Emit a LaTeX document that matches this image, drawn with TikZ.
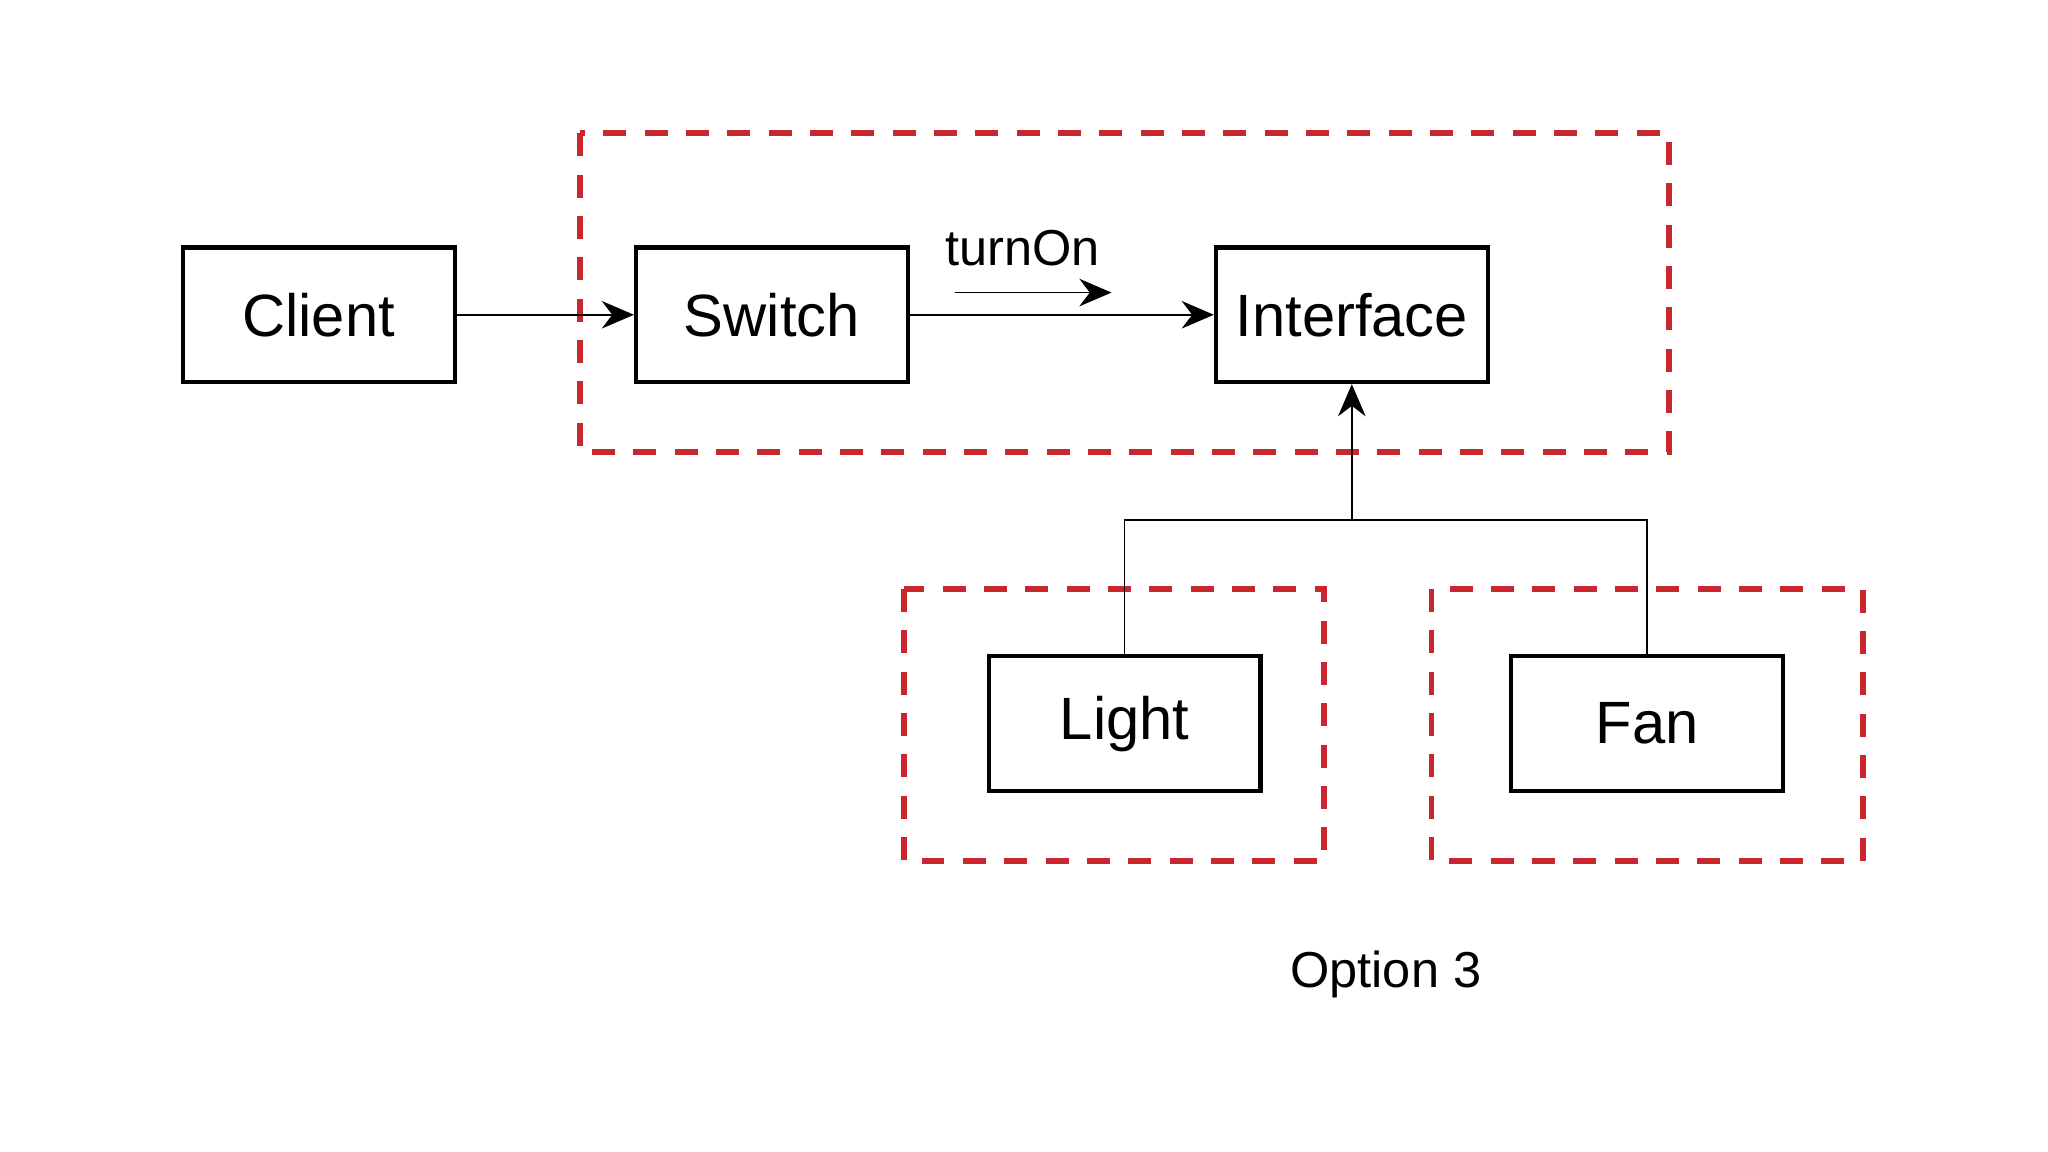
\documentclass[tikz,border=0pt]{standalone}
\usepackage{fontspec}
\setmainfont{Liberation Sans}
\usetikzlibrary{arrows.meta}
\definecolor{grpred}{RGB}{200,40,45}
\begin{document}
\begin{tikzpicture}[x=0.01cm,y=-0.01cm,>={Stealth[length=7pt,width=6pt]},
  box/.style={draw,line width=0.9pt,minimum width=2.08cm,minimum height=1.03cm,font=\fontsize{13}{15}\selectfont},
  grp/.style={draw=grpred,dashed,line width=1.3pt,dash pattern=on 5pt off 4pt},
  lbl/.style={font=\fontsize{11}{13}\selectfont}]
\useasboundingbox (0,0) rectangle (1568,882);
\draw[grp] (444,102) rectangle (1278,346);
\draw[grp] (692,451) rectangle (1014,659);
\draw[grp] (1096,451) rectangle (1426,659);
\node[box] (client) at (244,241) {Client};
\node[box] (switch) at (591,241) {Switch};
\node[box] (iface) at (1035,241) {Interface};
\node[box] (light) at (861,554) {Light};
\node[box] (fan) at (1261,554) {Fan};
\draw[->] (client) -- (switch);
\draw[->] (switch) -- (iface);
\node[lbl] (turn) at (783,190) {turnOn};
\coordinate (ta) at (731,224);
\coordinate (tb) at (851,224);
\draw[->] (ta) -- (tb);
\coordinate (j) at (1035,398);
\draw (light.north) |- (fan.north |- j) -- (fan.north);
\draw[->] (j) -- (iface.south);
\node[lbl] (opt) at (1061,746) {Option 3};
\end{tikzpicture}
\end{document}
